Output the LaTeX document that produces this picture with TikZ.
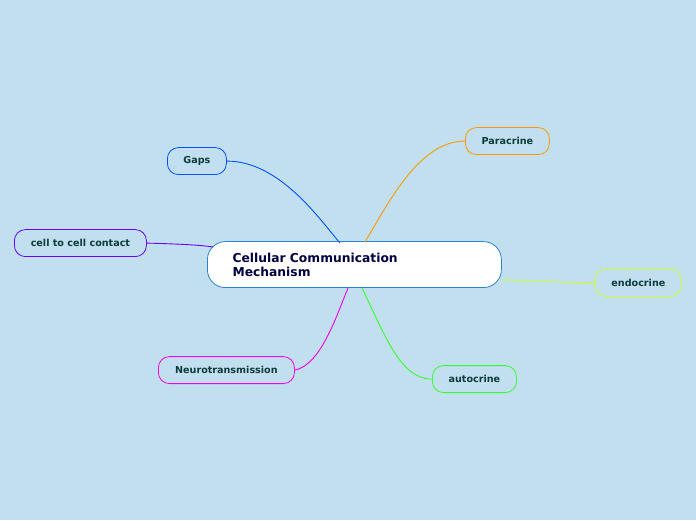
\documentclass[tikz,border=0pt]{standalone}
\usepackage{fontspec}
\setmainfont{DejaVu Sans}
\begin{document}
\begin{tikzpicture}[x=1pt,y=1pt,
  leaf/.style={draw,rounded corners=11pt,fill=bg,line width=0.8pt,font=\bfseries\fontsize{9.6}{11}\selectfont,text=txt,anchor=south west,inner sep=0pt,align=center},
  conn/.style={line width=0.9pt}]
\definecolor{bg}{HTML}{C2DFF0}
\definecolor{txt}{HTML}{0B3B3B}
\definecolor{cb}{HTML}{2A86CC}
\fill[bg] (0,0) rectangle (696,520);
\useasboundingbox (0,0) rectangle (696,520);
\node[draw=cb,fill=white,rounded corners=18pt,line width=0.8pt,minimum width=294pt,minimum height=46pt,anchor=south west,inner sep=0pt] (c) at (207,232) {};
\node[anchor=west,align=left,font=\bfseries\fontsize{12.3}{14.5}\selectfont,text=blue!25!black] (ct) at (229,255) {Cellular Communication\\Mechanism};
\node[leaf,draw={rgb,255:red,0;green,80;blue,255},minimum width=59pt,minimum height=27pt] (g) at (167,345) {Gaps};
\node[leaf,draw={rgb,255:red,255;green,153;blue,0},minimum width=84pt,minimum height=27pt] (p) at (465,365) {Paracrine};
\node[leaf,draw={rgb,255:red,204;green,255;blue,51},minimum width=86pt,minimum height=28pt] (e) at (595,223) {endocrine};
\node[leaf,draw={rgb,255:red,51;green,255;blue,51},minimum width=84pt,minimum height=27pt] (a) at (432,127) {autocrine};
\node[leaf,draw={rgb,255:red,238;green,0;blue,238},minimum width=136pt,minimum height=27pt] (n) at (158,136) {Neurotransmission};
\node[leaf,draw={rgb,255:red,102;green,0;blue,255},minimum width=132pt,minimum height=27pt] (cc) at (14,263) {cell to cell contact};
\draw[conn,draw={rgb,255:red,0;green,80;blue,255}] (g.east) .. controls (280,359) and (320,300) .. (340,277);
\draw[conn,draw={rgb,255:red,255;green,153;blue,0}] (p.west) .. controls (420,379) and (390,320) .. (365,278);
\draw[conn,draw={rgb,255:red,204;green,255;blue,51}] (e.west) .. controls (560,237) and (530,240) .. (500,240);
\draw[conn,draw={rgb,255:red,51;green,255;blue,51}] (a.west) .. controls (400,141) and (385,185) .. (362,232);
\draw[conn,draw={rgb,255:red,238;green,0;blue,238}] (n.east) .. controls (320,155) and (335,200) .. (348,232);
\draw[conn,draw={rgb,255:red,102;green,0;blue,255}] (cc.east) .. controls (180,276) and (200,275) .. (213,273);
\end{tikzpicture}
\end{document}
